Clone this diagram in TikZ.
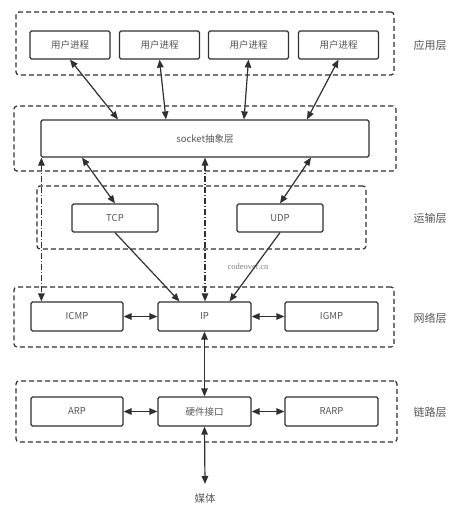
\documentclass[tikz,border=0pt]{standalone}
\usepackage{fontspec}
\setmainfont{Noto Sans CJK SC}
\newfontfamily\wmfont{Liberation Serif}
\usetikzlibrary{arrows.meta}
\definecolor{lc}{HTML}{303030}
\definecolor{tc}{HTML}{555555}
\begin{document}
\begin{tikzpicture}[x=1pt,y=-1pt,
  box/.style={draw=lc, line width=1.2pt, rounded corners=1.5pt, inner sep=0pt, minimum height=28pt, font=\fontsize{9.5}{11}\selectfont, text=tc},
  layer/.style={draw=lc, line width=1.2pt, dash pattern=on 5pt off 3pt, rounded corners=3pt, inner sep=0pt},
  lab/.style={font=\fontsize{11}{13}\selectfont, text=tc, inner sep=0pt},
  tip/.tip={Triangle[length=8pt,width=6.5pt]},
  arr/.style={draw=lc, line width=1.2pt, tip-tip},
  arrup/.style={draw=lc, line width=1.2pt, -tip},
  dd/.style={draw=lc, line width=1.1pt, dash pattern=on 6pt off 2pt on 1pt off 2pt, tip-tip}]
\useasboundingbox (0,0) rectangle (474,511);
% layer frames
\node[layer, minimum width=378pt, minimum height=63pt] (app) at (205,43.5) {};
\node[layer, minimum width=382pt, minimum height=65pt] (sockl) at (205,138.5) {};
\node[layer, minimum width=329pt, minimum height=63pt] (trans) at (201.5,217.5) {};
\node[layer, minimum width=380pt, minimum height=60pt] (net) at (204,317) {};
\node[layer, minimum width=381pt, minimum height=61pt] (link) at (206.5,411.5) {};
% application
\node[box, minimum width=80pt] (u1) at (70,45) {用户进程};
\node[box, minimum width=80pt] (u2) at (159.5,45) {用户进程};
\node[box, minimum width=80pt] (u3) at (248.5,45) {用户进程};
\node[box, minimum width=80pt] (u4) at (338.5,45) {用户进程};
\node[lab] (lapp) at (430,45) {应用层};
% socket
\node[box, minimum width=328pt, minimum height=37pt] (sock) at (205,138.5) {socket抽象层};
% transport
\node[box, minimum width=86pt] (tcp) at (115,218) {TCP};
\node[box, minimum width=86pt] (udp) at (280,218) {UDP};
\node[lab] (ltrans) at (430,218) {运输层};
% network
\node[box, minimum width=92pt, minimum height=29pt] (icmp) at (77,316.5) {ICMP};
\node[box, minimum width=93pt, minimum height=29pt] (ip) at (204.5,316.5) {IP};
\node[box, minimum width=93pt, minimum height=29pt] (igmp) at (331.5,316.5) {IGMP};
\node[lab] (lnet) at (430,318) {网络层};
% link
\node[box, minimum width=92pt, minimum height=29pt] (arp) at (77,411.5) {ARP};
\node[box, minimum width=93pt, minimum height=29pt] (hw) at (204.5,411.5) {硬件接口};
\node[box, minimum width=93pt, minimum height=29pt] (rarp) at (331.5,411.5) {RARP};
\node[lab] (llink) at (430,412) {链路层};
% media
\node[lab, font=\fontsize{10.5}{12}\selectfont] (media) at (205,499) {媒体};
\coordinate (mend) at (205,484);
% watermark
\node[inner sep=0pt, font=\wmfont\fontsize{8.5}{9}\selectfont, text=black!50] (wm) at (248,267) {codeover.cn};
% connectors
\draw[arr] (u1.south) -- ([xshift=-87pt]sock.north);
\draw[arr] (u2.south) -- ([xshift=-39pt]sock.north);
\draw[arr] (u3.south) -- ([xshift=39pt]sock.north);
\draw[arr] (u4.south) -- ([xshift=102pt]sock.north);
\draw[arr] ([xshift=-123pt]sock.south) -- (tcp.north);
\draw[arr] ([xshift=106pt]sock.south) -- (udp.north);
\draw[arrup] (tcp.south) -- ([xshift=-25pt]ip.north);
\draw[arrup] (udp.south) -- ([xshift=25pt]ip.north);
\draw[dd] ([xshift=1pt]sock.south west) -- ([xshift=1pt]sock.south west |- icmp.north);
\draw[dd] (sock.south) -- (sock.south |- ip.north);
\draw[arr] (icmp.east) -- (ip.west);
\draw[arr] (ip.east) -- (igmp.west);
\draw[arr] (ip.south) -- (hw.north);
\draw[arr] (arp.east) -- (hw.west);
\draw[arr] (hw.east) -- (rarp.west);
\draw[arr] (hw.south) -- (mend);
\end{tikzpicture}
\end{document}
